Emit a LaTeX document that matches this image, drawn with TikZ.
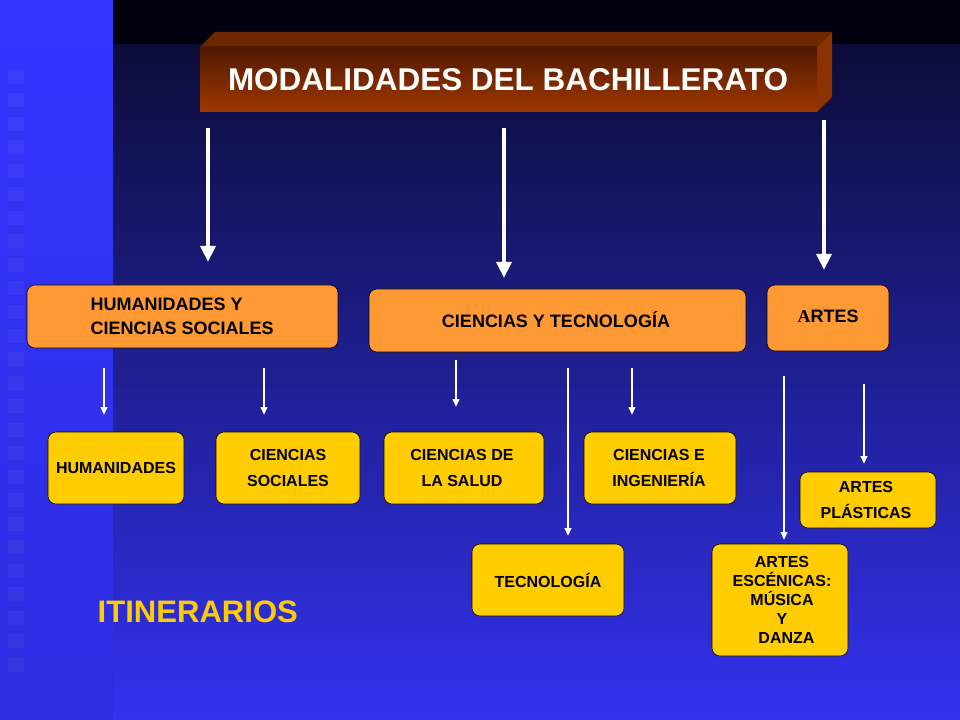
\documentclass[tikz,border=0pt]{standalone}
\usepackage{fontspec}
\setmainfont{Liberation Sans}
\usetikzlibrary{arrows.meta}
\definecolor{bgtop}{RGB}{10,10,45}
\definecolor{bgbot}{RGB}{50,50,240}
\definecolor{band}{RGB}{0,0,15}
\definecolor{strip1}{RGB}{52,52,255}
\definecolor{strip2}{RGB}{45,45,225}
\definecolor{ttop}{RGB}{110,40,0}
\definecolor{tside}{RGB}{140,50,0}
\definecolor{tf1}{RGB}{80,25,0}
\definecolor{tf2}{RGB}{160,55,0}
\definecolor{ora}{RGB}{255,153,51}
\definecolor{yel}{RGB}{255,204,0}
\begin{document}
\begin{tikzpicture}[x=0.75pt,y=-0.75pt,
 obox/.style={draw=black,fill=ora,rounded corners=6pt},
 ybox/.style={draw=black,fill=yel,rounded corners=6pt},
 big/.style={white,line width=3.5pt,-{Triangle[length=12pt,width=11pt]}},
 sm/.style={white,line width=1.5pt,-{Triangle[length=6pt,width=5pt]}},
 ot/.style={font=\bfseries\fontsize{13.5}{18}\selectfont,align=left},
 yt/.style={font=\bfseries\fontsize{12}{19}\selectfont,align=center}]
\useasboundingbox (0,0) rectangle (960,720);
\shade[top color=bgtop,bottom color=bgbot] (113,0) rectangle (960,720);
\fill[band] (113,0) rectangle (960,44);
\shade[top color=strip1,bottom color=strip2] (0,0) rectangle (113,720);
\foreach \i in {0,...,25} \fill[white,opacity=0.04] (8,{70+\i*23.5}) rectangle (24,{84+\i*23.5});
% title
\fill[ttop] (200,47) -- (215,32) -- (832,32) -- (817,47) -- cycle;
\fill[tside] (817,47) -- (832,32) -- (832,97) -- (817,112) -- cycle;
\shade[top color=tf1,bottom color=tf2] (200,47) rectangle (817,112);
\node[white,font=\bfseries\fontsize{23.6}{28}\selectfont] (title) at (508,80) {MODALIDADES DEL BACHILLERATO};
% modality boxes
\draw[obox] (27,285) rectangle (338,348); \node[ot,anchor=west] (hcs) at (86,316) {HUMANIDADES Y\\CIENCIAS SOCIALES};
\draw[obox] (369,289) rectangle (746,352); \node[ot] (ct) at (556,320) {CIENCIAS Y TECNOLOGÍA};
\draw[obox] (767,285) rectangle (889,351); \node[ot] (ar) at (828,316) {{\fontspec{Liberation Serif}A}RTES};
% itinerary boxes
\draw[ybox] (48,432) rectangle (184,504); \node[yt] (hum) at (116,468) {HUMANIDADES};
\draw[ybox] (216,432) rectangle (360,504); \node[yt] (cs) at (288,468) {CIENCIAS\\SOCIALES};
\draw[ybox] (384,432) rectangle (544,504); \node[yt] (cds) at (462,468) {CIENCIAS DE\\LA SALUD};
\draw[ybox] (584,432) rectangle (736,504); \node[yt] (cei) at (659,468) {CIENCIAS E\\INGENIERÍA};
\draw[ybox] (472,544) rectangle (624,616); \node[yt] (tec) at (548,580) {TECNOLOGÍA};
\draw[ybox] (800,472) rectangle (936,528); \node[yt] (ap) at (866,500) {ARTES\\PLÁSTICAS};
\draw[ybox] (712,544) rectangle (848,656); \node[yt,font=\bfseries\fontsize{12}{14.2}\selectfont] (ae) at (782,600) {ARTES\\ESCÉNICAS:\\MÚSICA\\Y\\\ \ DANZA};
\node[font=\bfseries\fontsize{23.3}{26}\selectfont,text=yel,anchor=west] (it) at (93,612) {ITINERARIOS};
% arrows
\foreach \n/\x/\a/\b in {a1/208/128/262,a2/504/128/278,a3/824/120/270}{
 \coordinate (\n s) at (\x,\a); \coordinate (\n e) at (\x,\b); \draw[big] (\n s) -- (\n e);}
\foreach \n/\x/\a/\b in {b1/104/368/415,b2/264/368/415,b3/456/360/407,b4/568/368/536,b5/632/368/415,b6/784/376/540,b7/864/384/464}{
 \coordinate (\n s) at (\x,\a); \coordinate (\n e) at (\x,\b); \draw[sm] (\n s) -- (\n e);}
\end{tikzpicture}
\end{document}
